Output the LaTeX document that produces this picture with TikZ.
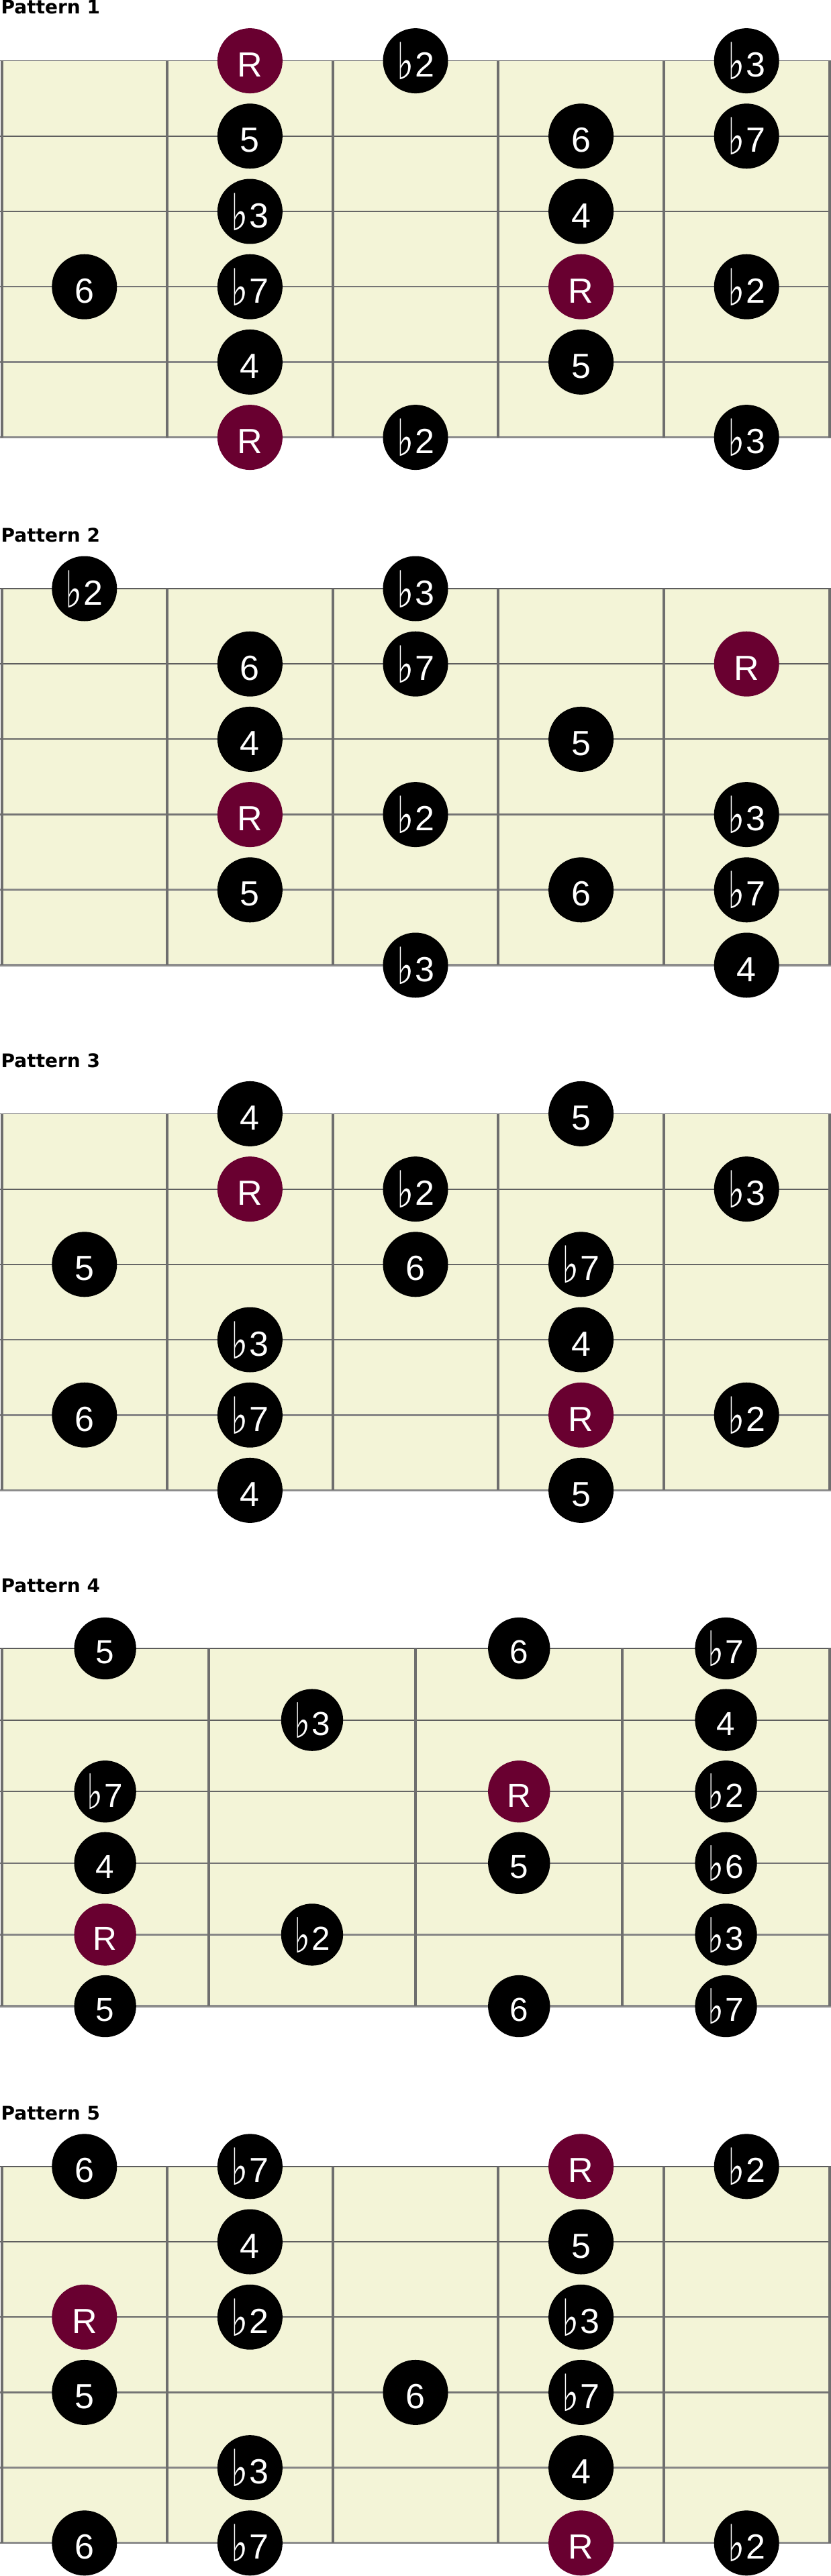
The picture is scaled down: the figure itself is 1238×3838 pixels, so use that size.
\documentclass[tikz,border=0pt]{standalone}
\usepackage{fontspec}
\setmainfont{Liberation Sans}
\newfontfamily\titlefont{DejaVu Sans}
\newfontfamily\flatfont{DejaVu Sans}
\definecolor{boardfill}{HTML}{F3F4D7}
\definecolor{fretgray}{HTML}{6E6E6E}
\definecolor{strA}{HTML}{5C5C5C}
\definecolor{strB}{HTML}{5E5E5E}
\definecolor{strC}{HTML}{666666}
\definecolor{strD}{HTML}{747474}
\definecolor{strE}{HTML}{868686}
\definecolor{strF}{HTML}{8C8C8C}
\definecolor{rootred}{HTML}{690030}
\def\notesz{52}
\def\flatsz{76}
\def\flatgap{2}
\def\flatdrop{4}
\newcommand{\fl}{\raisebox{-\flatdrop pt}{\scalebox{0.7}[1]{\flatfont\fontsize{\flatsz}{\flatsz}\selectfont ♭}}\kern\flatgap pt\relax}
\newcommand{\fretboard}[6]{%
  % #1 id, #2 top y, #3 string spacing, #4 number of frets, #5 fret width, #6 scale
  \pgfmathsetmacro\notesz{52*#6}%
  \pgfmathsetmacro\flatsz{76*#6}%
  \pgfmathsetmacro\flatgap{2*#6}%
  \pgfmathsetmacro\flatdrop{4*#6}%
  \pgfmathsetmacro\dotdiam{97*#6}%
  \pgfmathsetmacro\txtht{48*#6}%
  \fill[boardfill] (2.5,#2) rectangle ({2.5+#4*#5},{#2+5*#3});
  \foreach \s/\w/\c in {0/1.6/strA,1/1.8/strB,2/2/strC,3/2.3/strD,4/2.8/strE,5/3.2/strF}
    \draw[stringline, line width=\w pt, draw=\c] (0,{#2+\s*#3}) -- (1238,{#2+\s*#3});
  \foreach \f in {0,...,#4}
    \draw[fretline] ({2.5+\f*#5},#2) -- ({2.5+\f*#5},{#2+5*#3});
}
\newcommand{\notes}[4]{%
  % #1 list, #2 id, #3 top y, #4 fret width
  \foreach \s/\f/\t/\k in {#1}
    \node[note, minimum size=\dotdiam pt, text height=\txtht pt, fill=\k,
          font=\fontsize{\notesz}{\notesz}\selectfont]
      (#2-\s-\f) at ({2.5+(\f-0.5)*#4},{#3+(\s-1)*\strsp}) {\t};
}
\begin{document}
\begin{tikzpicture}[x=1pt,y=-1pt,
  stringline/.style={line cap=butt},
  fretline/.style={draw=fretgray, line width=4pt},
  note/.style={circle, inner sep=0pt, text=white, text depth=0pt},
  title/.style={anchor=base west, inner sep=0pt, font=\titlefont\bfseries\fontsize{28}{28}\selectfont}]
\useasboundingbox (0,0) rectangle (1238,3838);

% ---------- Pattern 1 ----------
\node[title] (t1) at (1.5,20.7) {Pattern 1};
\fretboard{p1}{90.6}{112.2}{5}{246.6}{1}
\def\strsp{112.2}
\notes{1/2/R/rootred, 1/3/\fl2/black, 1/5/\fl3/black,
       2/2/5/black, 2/4/6/black, 2/5/\fl7/black,
       3/2/\fl3/black, 3/4/4/black,
       4/1/6/black, 4/2/\fl7/black, 4/4/R/rootred, 4/5/\fl2/black,
       5/2/4/black, 5/4/5/black,
       6/2/R/rootred, 6/3/\fl2/black, 6/5/\fl3/black}{p1}{90.6}{246.6}

% ---------- Pattern 2 ----------
\node[title] (t2) at (1.5,807) {Pattern 2};
\fretboard{p2}{877}{112.2}{5}{246.6}{1}
\notes{1/1/\fl2/black, 1/3/\fl3/black,
       2/2/6/black, 2/3/\fl7/black, 2/5/R/rootred,
       3/2/4/black, 3/4/5/black,
       4/2/R/rootred, 4/3/\fl2/black, 4/5/\fl3/black,
       5/2/5/black, 5/4/6/black, 5/5/\fl7/black,
       6/3/\fl3/black, 6/5/4/black}{p2}{877}{246.6}

% ---------- Pattern 3 ----------
\node[title] (t3) at (1.5,1590.5) {Pattern 3};
\fretboard{p3}{1659.4}{112.2}{5}{246.6}{1}
\notes{1/2/4/black, 1/4/5/black,
       2/2/R/rootred, 2/3/\fl2/black, 2/5/\fl3/black,
       3/1/5/black, 3/3/6/black, 3/4/\fl7/black,
       4/2/\fl3/black, 4/4/4/black,
       5/1/6/black, 5/2/\fl7/black, 5/4/R/rootred, 5/5/\fl2/black,
       6/2/4/black, 6/4/5/black}{p3}{1659.4}{246.6}

% ---------- Pattern 4 ----------
\node[title] (t4) at (1.5,2372) {Pattern 4};
\fretboard{p4}{2456}{106.6}{4}{308.3}{0.952}
\def\strsp{106.6}
\notes{1/1/5/black, 1/3/6/black, 1/4/\fl7/black,
       2/2/\fl3/black, 2/4/4/black,
       3/1/\fl7/black, 3/3/R/rootred, 3/4/\fl2/black,
       4/1/4/black, 4/3/5/black, 4/4/\fl6/black,
       5/1/R/rootred, 5/2/\fl2/black, 5/4/\fl3/black,
       6/1/5/black, 6/3/6/black, 6/4/\fl7/black}{p4}{2456}{308.3}

% ---------- Pattern 5 ----------
\node[title] (t5) at (1.5,3158.4) {Pattern 5};
\fretboard{p5}{3227.8}{112.2}{5}{246.6}{1}
\def\strsp{112.2}
\notes{1/1/6/black, 1/2/\fl7/black, 1/4/R/rootred, 1/5/\fl2/black,
       2/2/4/black, 2/4/5/black,
       3/1/R/rootred, 3/2/\fl2/black, 3/4/\fl3/black,
       4/1/5/black, 4/3/6/black, 4/4/\fl7/black,
       5/2/\fl3/black, 5/4/4/black,
       6/1/6/black, 6/2/\fl7/black, 6/4/R/rootred, 6/5/\fl2/black}{p5}{3227.8}{246.6}
\end{tikzpicture}
\end{document}
